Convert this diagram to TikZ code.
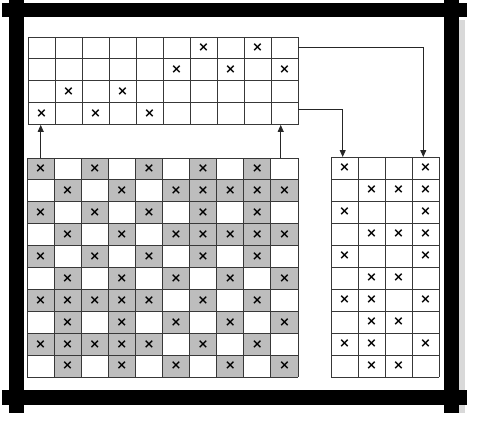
\documentclass[tikz,border=0pt]{standalone}
\usepackage{fontspec}
\newfontfamily\xfont{DejaVu Sans}
\usetikzlibrary{arrows.meta}
\begin{document}
\begin{tikzpicture}[x=1pt,y=-1pt,
  gridline/.style={draw=black!78,line width=1pt},
  graycell/.style={fill=black!26},
  xmark/.style={inner sep=0pt,font=\xfont\bfseries\fontsize{13pt}{13pt}\selectfont},
  gridbox/.style={inner sep=0pt,anchor=north west,draw=none},
  post/.style={fill=black},
  arr/.style={draw=black!85,line width=0.9pt,-{Triangle[length=7pt,width=6pt]}}]
\useasboundingbox (0,0) rectangle (477,423);
% frame
\fill[black!15] (459,20) rectangle (465,413);
\fill[post] (2,3) rectangle (467,17);
\fill[post] (2,390) rectangle (467,405);
\fill[post] (9,0) rectangle (24,413);
\fill[post] (444,0) rectangle (459,413);
% grid boxes
\node[gridbox,minimum width=270pt,minimum height=87.5pt] (top) at (28,37) {};
\node[gridbox,minimum width=271pt,minimum height=219pt] (big) at (27,158) {};
\node[gridbox,minimum width=108pt,minimum height=220pt] (rgt) at (331,157) {};
% top grid
\foreach \c/\r in {7/1,9/1,6/2,8/2,10/2,2/3,4/3,1/4,3/4,5/4}
  \node[xmark] (t\c-\r) at (28+27*\c-13.5, 37+21.875*\r-10.94) {×};
\foreach \i in {0,...,10} \draw[gridline] (28+\i*27,37) -- (28+\i*27,124.5);
\foreach \j in {0,...,4} \draw[gridline] (28,37+\j*21.875) -- (298,37+\j*21.875);
% big grid
\foreach \r/\cols in {1/{1,3,5,7,9},2/{2,4,6,7,8,9,10},3/{1,3,5,7,9},4/{2,4,6,7,8,9,10},
  5/{1,3,5,7,9},6/{2,4,6,8,10},7/{1,2,3,4,5,7,9},8/{2,4,6,8,10},9/{1,2,3,4,5,7,9},10/{2,4,6,8,10}}
  \foreach \c in \cols {
    \fill[graycell] (27+27.1*\c-27.1,158+21.9*\r-21.9) rectangle (27+27.1*\c,158+21.9*\r);
    \node[xmark] (b\c-\r) at (27+27.1*\c-13.55,158+21.9*\r-10.95) {×};
  }
\foreach \i in {0,...,10} \draw[gridline] (27+\i*27.1,158) -- (27+\i*27.1,377);
\foreach \j in {0,...,10} \draw[gridline] (27,158+\j*21.9) -- (298,158+\j*21.9);
% right grid
\foreach \r/\cols in {1/{1,4},2/{2,3,4},3/{1,4},4/{2,3,4},5/{1,4},6/{2,3},7/{1,2,4},8/{2,3},9/{1,2,4},10/{2,3}}
  \foreach \c in \cols
    \node[xmark] (r\c-\r) at (331+27*\c-13.5,157+22*\r-11) {×};
\foreach \i in {0,...,4} \draw[gridline] (331+\i*27,157) -- (331+\i*27,377);
\foreach \j in {0,...,10} \draw[gridline] (331,157+\j*22) -- (439,157+\j*22);
% connectors
\coordinate (ua) at (40.7,0);
\coordinate (ub) at (280.7,0);
\coordinate (ya) at (0,47);
\coordinate (yb) at (0,109.3);
\coordinate (xa) at (423.3,0);
\coordinate (xb) at (342.7,0);
\draw[arr] (big.north -| ua) -- (top.south -| ua);
\draw[arr] (big.north -| ub) -- (top.south -| ub);
\draw[arr] (top.east |- ya) -| (rgt.north -| xa);
\draw[arr] (top.east |- yb) -| (rgt.north -| xb);
\end{tikzpicture}
\end{document}
